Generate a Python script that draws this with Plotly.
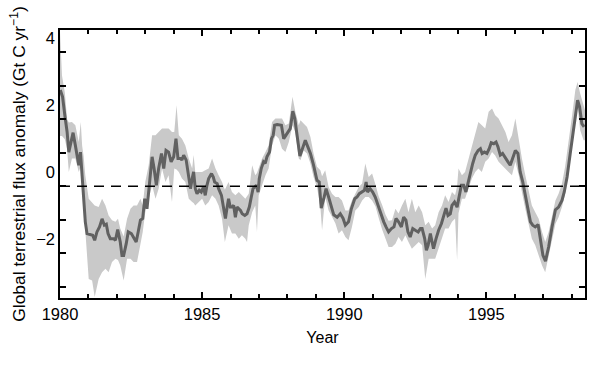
import plotly.graph_objects as go

# ---- data ----
line_years = [
    1980.01, 1980.09, 1980.17, 1980.25, 1980.31, 1980.39, 1980.46, 1980.54, 1980.61, 1980.66,
    1980.72, 1980.78, 1980.83, 1980.89, 1980.95, 1981.07, 1981.15, 1981.22, 1981.30, 1981.39,
    1981.48, 1981.56, 1981.63, 1981.69, 1981.77, 1981.89, 1981.95, 1982.03, 1982.12, 1982.18,
    1982.24, 1982.33, 1982.40, 1982.51, 1982.59, 1982.68, 1982.75, 1982.83, 1982.91, 1982.98,
    1983.06, 1983.14, 1983.24, 1983.31, 1983.39, 1983.47, 1983.57, 1983.65, 1983.73, 1983.82,
    1983.91, 1984.00, 1984.08, 1984.15, 1984.24, 1984.29, 1984.35, 1984.44, 1984.51, 1984.59,
    1984.65, 1984.70, 1984.76, 1984.82, 1984.90, 1984.97, 1985.05, 1985.11, 1985.17, 1985.23,
    1985.33, 1985.39, 1985.44, 1985.53, 1985.58, 1985.68, 1985.76, 1985.82, 1985.88, 1985.93,
    1985.99, 1986.05, 1986.11, 1986.17, 1986.23, 1986.29, 1986.35, 1986.41, 1986.50, 1986.58,
    1986.66, 1986.73, 1986.79, 1986.85, 1986.91, 1986.97, 1987.01, 1987.08, 1987.16, 1987.22,
    1987.28, 1987.37, 1987.44, 1987.50, 1987.55, 1987.64, 1987.72, 1987.79, 1987.87, 1987.95,
    1988.02, 1988.10, 1988.19, 1988.26, 1988.34, 1988.44, 1988.63, 1988.81, 1988.92, 1989.04,
    1989.12, 1989.19, 1989.28, 1989.36, 1989.45, 1989.55, 1989.63, 1989.75, 1989.86, 1989.96,
    1990.04, 1990.15, 1990.25, 1990.37, 1990.45, 1990.53, 1990.63, 1990.71, 1990.77, 1990.82,
    1990.91, 1991.00, 1991.09, 1991.19, 1991.28, 1991.39, 1991.47, 1991.56, 1991.66, 1991.75,
    1991.82, 1991.91, 1992.01, 1992.09, 1992.17, 1992.24, 1992.32, 1992.41, 1992.50, 1992.60,
    1992.68, 1992.74, 1992.83, 1992.89, 1992.95, 1993.03, 1993.09, 1993.14, 1993.23, 1993.32,
    1993.42, 1993.50, 1993.58, 1993.65, 1993.73, 1993.79, 1993.88, 1993.97, 1994.05, 1994.12,
    1994.20, 1994.28, 1994.35, 1994.44, 1994.52, 1994.61, 1994.71, 1994.79, 1994.85, 1994.93,
    1995.02, 1995.10, 1995.17, 1995.26, 1995.34, 1995.41, 1995.49, 1995.57, 1995.67, 1995.76,
    1995.84, 1995.92, 1996.02, 1996.11, 1996.19, 1996.28, 1996.37, 1996.46, 1996.55, 1996.63,
    1996.72, 1996.82, 1996.90, 1996.99, 1997.08, 1997.19, 1997.31, 1997.43, 1997.54, 1997.66,
    1997.74, 1997.84, 1997.95, 1998.07, 1998.16, 1998.21, 1998.28, 1998.36, 1998.44,
]
flux_anomaly = [
    2.87, 2.67, 2.12, 1.62, 1.02, 1.32, 1.60, 1.22, 0.88, 0.63,
    1.02, 0.33, -0.37, -1.06, -1.41, -1.44, -1.46, -1.61, -1.36, -1.21,
    -0.97, -1.16, -1.13, -1.41, -1.56, -1.56, -1.61, -1.29, -1.66, -2.06,
    -2.06, -1.71, -1.36, -1.41, -1.54, -1.66, -1.36, -1.01, -0.96, -0.37,
    -0.67, -0.07, 0.88, 0.53, 0.03, 0.53, 0.98, 0.53, 1.07, 1.02,
    0.73, 0.88, 1.42, 0.83, 0.83, 0.78, 0.93, 0.78, 0.43, -0.07,
    0.23, 0.43, -0.07, -0.22, -0.12, -0.17, -0.02, -0.27, 0.03, 0.23,
    0.38, 0.28, 0.13, 0.08, -0.07, -0.27, -0.67, -0.96, -0.62, -0.37,
    -0.62, -0.62, -0.57, -0.92, -0.62, -0.67, -0.72, -0.82, -0.87, -0.82,
    -0.62, -0.32, -0.07, -0.02, 0.03, -0.17, 0.23, 0.53, 0.73, 0.68,
    0.88, 1.02, 1.42, 1.52, 1.82, 1.84, 1.82, 1.82, 1.42, 1.52,
    1.62, 1.72, 2.24, 2.02, 1.52, 0.90, 1.37, 0.98, 0.63, 0.18,
    0.13, -0.65, -0.37, -0.07, -0.32, -0.62, -0.85, -0.92, -0.82, -0.96,
    -1.16, -1.06, -0.67, -0.37, -0.32, -0.22, -0.17, -0.12, 0.13, -0.17,
    -0.07, -0.17, -0.32, -0.57, -0.82, -1.06, -1.21, -1.36, -1.26, -1.21,
    -0.96, -1.06, -1.21, -0.92, -1.01, -1.36, -1.51, -1.26, -1.31, -1.36,
    -1.26, -1.26, -1.56, -1.91, -1.76, -1.41, -1.66, -1.86, -1.56, -1.31,
    -1.11, -0.87, -0.65, -0.87, -0.82, -0.57, -0.47, -0.62, -0.22, 0.03,
    0.03, -0.17, 0.08, 0.43, 0.68, 0.93, 1.07, 1.12, 0.98, 1.02,
    0.98, 1.12, 1.30, 1.27, 1.32, 1.17, 0.93, 0.98, 0.83, 0.73,
    0.63, 0.83, 1.07, 0.98, 0.43, 0.13, -0.27, -0.67, -1.06, -1.16,
    -1.21, -1.14, -1.56, -2.06, -2.23, -1.81, -1.21, -0.70, -0.62, -0.42,
    -0.17, 0.28, 0.98, 1.77, 2.32, 2.57, 2.37, 1.87, 1.77,
]

band_years = [
    1980.00, 1980.07, 1980.17, 1980.25, 1980.31, 1980.42, 1980.54, 1980.66, 1980.73, 1980.78,
    1980.83, 1980.89, 1981.01, 1981.13, 1981.22, 1981.36, 1981.48, 1981.60, 1981.71, 1981.83,
    1981.95, 1982.04, 1982.12, 1982.24, 1982.36, 1982.48, 1982.59, 1982.71, 1982.83, 1982.91,
    1983.00, 1983.12, 1983.24, 1983.36, 1983.47, 1983.59, 1983.71, 1983.82, 1983.94, 1984.02,
    1984.10, 1984.18, 1984.29, 1984.41, 1984.53, 1984.65, 1984.70, 1984.76, 1984.88, 1985.00,
    1985.11, 1985.23, 1985.35, 1985.47, 1985.58, 1985.70, 1985.80, 1985.93, 1986.05, 1986.17,
    1986.29, 1986.40, 1986.52, 1986.58, 1986.64, 1986.76, 1986.87, 1986.93, 1986.99, 1987.11,
    1987.23, 1987.34, 1987.46, 1987.58, 1987.70, 1987.81, 1987.93, 1988.05, 1988.18, 1988.28,
    1988.40, 1988.46, 1988.57, 1988.69, 1988.81, 1988.92, 1989.04, 1989.16, 1989.22, 1989.33,
    1989.45, 1989.57, 1989.69, 1989.80, 1989.92, 1990.04, 1990.15, 1990.27, 1990.39, 1990.51,
    1990.63, 1990.74, 1990.86, 1990.98, 1991.10, 1991.21, 1991.33, 1991.45, 1991.56, 1991.68,
    1991.80, 1991.91, 1992.03, 1992.15, 1992.26, 1992.38, 1992.50, 1992.62, 1992.74, 1992.85,
    1992.97, 1993.09, 1993.20, 1993.32, 1993.44, 1993.55, 1993.67, 1993.79, 1993.90, 1993.97,
    1994.02, 1994.14, 1994.25, 1994.37, 1994.49, 1994.61, 1994.72, 1994.84, 1994.96, 1995.08,
    1995.20, 1995.31, 1995.43, 1995.55, 1995.67, 1995.78, 1995.90, 1996.02, 1996.14, 1996.25,
    1996.37, 1996.49, 1996.60, 1996.72, 1996.84, 1996.96, 1997.07, 1997.19, 1997.31, 1997.43,
    1997.54, 1997.66, 1997.77, 1997.89, 1998.01, 1998.13, 1998.21, 1998.30, 1998.42, 1998.47,
]
band_upper = [
    4.60, 3.30, 2.80, 2.00, 1.90, 1.92, 1.82, 1.32, 1.92, 1.20,
    0.90, 0.33, -0.37, -0.47, -0.57, -0.62, -0.37, -0.57, -0.87, -1.01,
    -1.06, -0.97, -1.26, -1.50, -0.97, -0.67, -0.57, -0.57, -0.37, -0.57,
    0.13, 0.63, 1.52, 1.52, 1.62, 1.72, 1.72, 1.72, 1.62, 1.62,
    2.42, 1.52, 1.42, 1.22, 0.83, 0.53, 0.93, 0.43, 0.43, 0.43,
    0.48, 0.53, 0.83, 0.53, 0.33, 0.13, -0.10, 0.13, -0.17, -0.27,
    -0.17, -0.27, -0.37, -0.30, -0.22, 0.63, 0.33, 0.40, 0.53, 0.83,
    1.02, 1.22, 1.92, 2.02, 2.02, 2.02, 1.82, 1.87, 2.67, 2.22,
    1.82, 1.97, 1.87, 1.77, 1.47, 0.98, 0.58, 0.48, 0.30, 0.48,
    -0.02, -0.22, -0.32, -0.32, -0.42, -0.72, -0.72, -0.42, -0.22, -0.02,
    0.08, 0.68, 0.28, 0.38, 0.05, -0.30, -0.55, -0.84, -1.03, -1.01,
    -0.67, -0.81, -0.57, -0.37, -0.77, -0.37, -0.77, -0.57, -0.77, -1.16,
    -1.06, -1.26, -1.16, -0.77, -0.57, -0.27, -0.47, -0.17, -0.27, 0.00,
    0.53, 0.33, 0.43, 0.83, 1.22, 1.62, 1.92, 1.82, 1.72, 2.22,
    2.32, 2.12, 2.02, 1.82, 1.62, 1.32, 1.52, 2.02, 1.32, 0.83,
    0.33, -0.17, -0.57, -0.77, -0.97, -1.36, -1.66, -1.36, -0.92, -0.42,
    -0.22, 0.08, 0.58, 1.27, 2.07, 2.87, 3.11, 2.77, 2.37, 2.27,
]
band_lower = [
    1.50, 1.50, 1.40, 1.10, 0.43, 0.83, 0.83, 0.43, 0.60, 0.13,
    -0.60, -1.36, -2.76, -2.81, -3.30, -2.76, -2.56, -2.46, -2.56, -2.26,
    -2.16, -2.20, -2.36, -2.81, -2.16, -2.16, -2.26, -2.26, -1.76, -1.36,
    -0.77, -0.37, 0.03, -0.37, -0.07, 0.53, 0.13, 0.33, -0.47, 0.53,
    0.50, 0.43, 0.23, 0.13, -0.37, -0.47, -0.50, -0.57, -0.47, -0.37,
    -0.57, -0.47, -0.27, -0.37, -0.57, -0.97, -1.66, -1.16, -1.41, -1.41,
    -1.56, -1.46, -1.56, -1.66, -1.16, -0.77, -0.57, -1.36, -0.27, 0.03,
    0.33, 0.53, 1.22, 1.52, 1.42, 1.12, 1.02, 1.32, 1.82, 1.62,
    0.83, 0.78, 1.07, 0.98, 0.68, 0.28, -0.02, -0.62, -1.31, -0.32,
    -0.72, -0.91, -1.11, -1.41, -1.31, -1.51, -1.61, -1.21, -0.72, -0.62,
    -0.42, -0.32, -0.32, -0.42, -0.60, -0.94, -1.28, -1.58, -1.81, -1.81,
    -1.71, -1.51, -1.66, -1.46, -1.66, -1.86, -1.76, -1.66, -1.76, -2.76,
    -2.16, -2.16, -2.16, -1.86, -1.56, -1.26, -1.26, -1.06, -0.96, -2.20,
    -0.80, -0.37, -0.37, -0.07, 0.23, 0.43, 0.53, 0.43, 0.73, 0.83,
    1.02, 0.92, 0.73, 0.63, 0.53, 0.43, 0.33, 0.73, 0.33, -0.17,
    -0.67, -1.16, -1.56, -1.76, -2.06, -2.36, -2.56, -2.16, -1.61, -1.12,
    -0.92, -0.62, -0.22, 0.48, 1.27, 1.97, 2.37, 1.67, 1.37, 1.37,
]

x_tick_years = [1980, 1985, 1990, 1995]
y_tick_values = [-2, 0, 2, 4]
y_tick_labels = ["\u22122", "0", "2", "4"]

fig = go.Figure()
fig.add_trace(go.Scatter(
    x=band_years + band_years[::-1],
    y=band_upper + band_lower[::-1],
    fill="toself", fillcolor="#c9c9c9",
    line=dict(width=0, color="#c9c9c9"),
    mode="lines", hoverinfo="skip", showlegend=False,
))
fig.add_trace(go.Scatter(
    x=line_years, y=flux_anomaly, mode="lines",
    line=dict(color="#616161", width=3),
    showlegend=False,
))
fig.add_hline(y=0, line=dict(color="black", width=1.5, dash="10px,7px"))

fig.update_layout(
    width=600, height=367,
    margin=dict(l=60, r=15, t=30, b=69),
    plot_bgcolor="white", paper_bgcolor="white",
    font=dict(family="Liberation Sans, Arial, sans-serif", size=16.5, color="black"),
)
fig.update_xaxes(
    range=[1980, 1998.47],
    tickvals=x_tick_years, ticktext=[str(v) for v in x_tick_years],
    tickfont=dict(size=16.5),
    ticks="inside", ticklen=6, tickwidth=1.5, tickcolor="black",
    minor=dict(dtick=1, tick0=1980, ticks="inside", ticklen=4, tickwidth=1.5, tickcolor="black"),
    showline=True, linecolor="black", linewidth=1.5, mirror="ticks",
    showgrid=False, zeroline=False,
    title=dict(text="Year", font=dict(size=16), standoff=10),
)
fig.update_yaxes(
    range=[-3.33, 4.66],
    tickvals=y_tick_values, ticktext=y_tick_labels,
    tickfont=dict(size=16.5),
    ticks="inside", ticklen=6, tickwidth=1.5, tickcolor="black",
    ticklabelshift=-14,
    minor=dict(dtick=1, tick0=0, ticks="inside", ticklen=6, tickwidth=1.5, tickcolor="black"),
    showline=True, linecolor="black", linewidth=1.5, mirror="ticks",
    showgrid=False, zeroline=False,
    title=dict(text="Global terrestrial flux anomaly (Gt C yr<sup>\u22121</sup>)",
               font=dict(size=17.4), standoff=6),
)

fig.write_html("out.html", config={"displayModeBar": False},
               post_script="document.body.style.margin='0px';")
